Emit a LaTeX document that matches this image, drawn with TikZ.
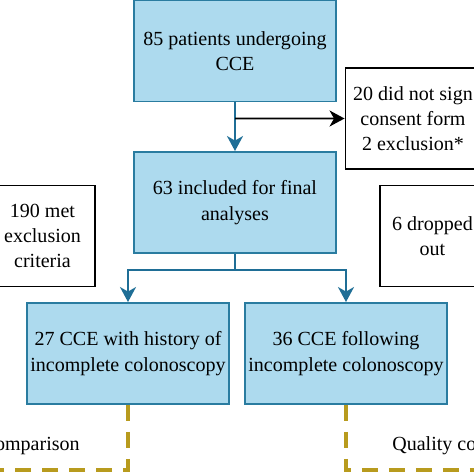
\documentclass[tikz,border=0pt]{standalone}
\usepackage{fontspec}
\setmainfont{Liberation Serif}
\usepackage{xcolor}
\definecolor{BoxFill}{HTML}{ADDAEE}
\definecolor{BoxLine}{HTML}{2A7CA0}
\definecolor{ArrBlue}{HTML}{1F6E96}
\definecolor{Olive}{HTML}{B89B1E}
\usetikzlibrary{arrows.meta,calc}

\begin{document}
\begin{tikzpicture}[
    x=0.02cm, y=-0.02cm,
    >={Stealth[length=3mm,width=3.2mm,inset=0.9mm]},
    flow/.style={draw=BoxLine,fill=BoxFill,line width=1.1pt,inner sep=0pt,
                 minimum width=4.04cm,minimum height=2.02cm,align=center,
                 font=\fontsize{11.4}{14.4}\selectfont},   % study arms
    side/.style={draw=black,fill=white,line width=1.1pt,inner sep=0pt,
                 minimum width=2.10cm,minimum height=2.02cm,align=center,
                 font=\fontsize{11.4}{14.4}\selectfont},   % excluded
    link/.style={ArrBlue,line width=1.1pt},
    cmp/.style={Olive,line width=2.6pt,dash pattern=on 3.2mm off 2.2mm},
    tag/.style={font=\fontsize{11.4}{14.4}\selectfont,inner sep=0pt},
  ]
  \useasboundingbox (0,0) rectangle (474,474);
  \clip (0,0) rectangle (474,474);

  % ---------- main column ----------
  \node[flow] (cce) at (235,51)    {85 patients undergoing\\CCE};
  \node[flow] (incl) at (235,202.5) {63 included for final\\analyses};

  % ---------- side boxes ----------
  \node[side,minimum width=2.70cm] (nosign) at (413,118.5)
       {20 did not sign\\consent form\\2 exclusion*};
  \node[side] (met)  at (42.5,236)  {190 met\\exclusion\\criteria};
  \node[side] (drop) at (432.5,236) {6 dropped\\out};

  % ---------- two arms ----------
  \node[flow] (hist) at (128,353.5) {27 CCE with history of\\incomplete colonoscopy};
  \node[flow] (foll) at (346,353.5) {36 CCE following\\incomplete colonoscopy};

  % arrows
  \draw[link,->] (cce.south) -- (incl.north);
  \coordinate (br) at ($(cce.south)!0.33!(incl.north)$);
  \draw[line width=1.1pt,->] (br) -- (nosign.west);
  \coordinate (split) at (235,270);
  \draw[link] (incl.south) -- (split);
  \draw[link,->] (split) -| (hist.north);
  \draw[link,->] (split) -| (foll.north);

  % ---------- comparison / quality control (dashed) ----------
  \coordinate (cl) at (-20,470);
  \coordinate (cr) at (500,470);
  \draw[cmp] (hist.south) |- (cl);
  \draw[cmp] (foll.south) |- (cr);
  \node[tag,anchor=east] (cmpl) at (80,446)  {Comparison};
  \node[tag,anchor=west] (qual) at (392,446) {Quality control};
\end{tikzpicture}
\end{document}
